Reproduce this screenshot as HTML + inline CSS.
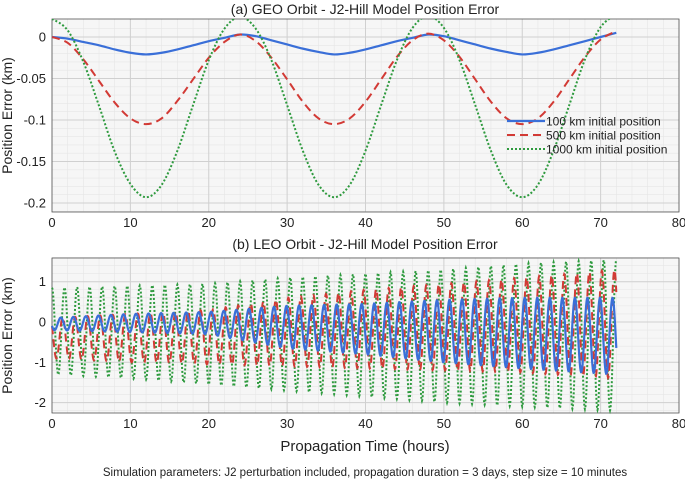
<!DOCTYPE html>
<html><head><meta charset="utf-8"><style>
body{margin:0;background:#fff;font-family:"Liberation Sans",sans-serif}
svg text{font-family:"Liberation Sans",sans-serif;fill:#222}
</style></head><body>
<svg id="c" width="685" height="485" viewBox="0 0 685 485"></svg>
<script>
const geoHours=[0,2,4,6,8,10,12,14,16,18,20,22,24,26,28,30,32,34,36,38,40,42,44,46,48,50,52,54,56,58,60,62,64,66,68,70,72];
const geoBlue=[0,-0.002,-0.006,-0.010,-0.015,-0.019,-0.021,-0.019,-0.015,-0.010,-0.005,-0.001,0.003,0.001,-0.004,-0.009,-0.014,-0.018,-0.021,-0.019,-0.015,-0.010,-0.005,-0.001,0.003,0.001,-0.004,-0.009,-0.014,-0.018,-0.021,-0.019,-0.015,-0.010,-0.005,0.000,0.005];
const geoRed=[0,-0.007,-0.027,-0.053,-0.079,-0.098,-0.105,-0.098,-0.077,-0.051,-0.025,-0.006,0.003,-0.005,-0.025,-0.051,-0.078,-0.098,-0.105,-0.098,-0.078,-0.051,-0.024,-0.004,0.004,-0.004,-0.024,-0.051,-0.078,-0.098,-0.105,-0.098,-0.078,-0.051,-0.024,-0.003,0.007];
const geoGreen=[0.022,0.008,-0.03,-0.083,-0.138,-0.177,-0.193,-0.178,-0.137,-0.082,-0.028,0.010,0.024,0.010,-0.028,-0.082,-0.137,-0.178,-0.193,-0.178,-0.137,-0.082,-0.028,0.011,0.025,0.011,-0.028,-0.082,-0.137,-0.178,-0.193,-0.178,-0.137,-0.082,-0.027,0.012,0.027];
const leoHours=[0,10,20,30,40,50,60,72];
const blueMax=[0.1,0.2,0.25,0.4,0.45,0.55,0.6,0.6];
const blueMin=[-0.2,-0.25,-0.3,-0.65,-0.8,-1.0,-1.15,-1.3];
const redMax=[0.1,0.2,0.3,0.6,0.8,0.95,1.1,1.3];
const redMin=[-0.9,-1.0,-1.05,-1.1,-1.15,-1.2,-1.25,-1.4];
const greenMax=[0.85,0.9,0.95,1.1,1.2,1.3,1.45,1.55];
const greenMin=[-1.3,-1.4,-1.55,-1.7,-1.85,-2.0,-2.1,-2.2];
const leoPeriod=1.6;
const xTicks=[0,10,20,30,40,50,60,70,80];
const geoTicks=[0,-0.05,-0.1,-0.15,-0.2];
const leoTicks=[1,0,-1,-2];
const legendLabels=["100 km initial position","500 km initial position","1000 km initial position"];

const svg=document.getElementById('c');const NS='http://www.w3.org/2000/svg';
function mk(t,a,p){const e=document.createElementNS(NS,t);for(const k in a)e.setAttribute(k,a[k]);(p||svg).appendChild(e);return e;}
const X0=52,X1=679;
const xs=v=>X0+(v/80)*(X1-X0);
const gy=v=>37+(0-v)/0.2*166;
const ly=v=>322-v*40.3;
const styles=[{stroke:'#3a6fd8','stroke-width':2.2,fill:'none'},{stroke:'#d23a35','stroke-width':2,fill:'none','stroke-dasharray':'8,5'},{stroke:'#2e9a3e','stroke-width':2,fill:'none','stroke-dasharray':'2,2'}];

function axes(top,bot,yf,ticks,name,minorStep,yMin,yMax){
  const g=mk('g',{});  
  mk('rect',{x:X0,y:top,width:X1-X0,height:bot-top,fill:'#f6f6f6'},g);
  for(let v=0;v<=80;v+=2)mk('line',{x1:xs(v),x2:xs(v),y1:top,y2:bot,stroke:'#e6e6e6','stroke-width':0.6},g);
  for(let v=Math.ceil(yMin/minorStep)*minorStep;v<=yMax;v+=minorStep)mk('line',{x1:X0,x2:X1,y1:yf(v),y2:yf(v),stroke:'#e6e6e6','stroke-width':0.6},g);
  xTicks.forEach(v=>{mk('line',{x1:xs(v),x2:xs(v),y1:top,y2:bot,stroke:'#d0d0d0','stroke-width':1},g);
    const t=mk('text',{x:xs(v),y:bot+15,'text-anchor':'middle','font-size':13},g);t.textContent=v;
    });
  ticks.forEach(v=>{mk('line',{x1:X0,x2:X1,y1:yf(v),y2:yf(v),stroke:'#d0d0d0','stroke-width':1},g);
    const t=mk('text',{x:X0-6,y:yf(v)+4.5,'text-anchor':'end','font-size':13},g);t.textContent=v;
    });
  mk('rect',{x:X0,y:top,width:X1-X0,height:bot-top,fill:'none',stroke:'#555','stroke-width':0.8},g);
  return g;
}
function smooth(px,py){let d='M'+px[0]+','+py[0];for(let i=0;i<px.length-1;i++){const x0=px[Math.max(i-1,0)],y0=py[Math.max(i-1,0)],x3=px[Math.min(i+2,px.length-1)],y3=py[Math.min(i+2,px.length-1)];
  d+=' C'+(px[i]+(px[i+1]-x0)/6)+','+(py[i]+(py[i+1]-y0)/6)+' '+(px[i+1]-(x3-px[i])/6)+','+(py[i+1]-(y3-py[i])/6)+' '+px[i+1]+','+py[i+1];}return d;}

// top chart
const topT=19,topB=212;
axes(topT,topB,gy,geoTicks,'geo',0.01,-0.21,0.02);
const clipT=mk('clipPath',{id:'ct'});mk('rect',{x:X0,y:topT,width:X1-X0,height:topB-topT},clipT);
[geoBlue,geoRed,geoGreen].forEach((s,i)=>{const p=mk('path',Object.assign({d:smooth(geoHours.map(xs),s.map(gy)),'clip-path':'url(#ct)'},styles[i]));
  });
let t=mk('text',{x:365,y:14,'text-anchor':'middle','font-size':14});t.textContent='(a) GEO Orbit - J2-Hill Model Position Error';

t=mk('text',{x:12,y:(topT+topB)/2,'text-anchor':'middle','font-size':14,transform:'rotate(-90 12 '+(topT+topB)/2+')'});t.textContent='Position Error (km)';

legendLabels.forEach((l,i)=>{const y=121+i*14;const g=mk('g',{});
  mk('line',Object.assign({x1:507,x2:545,y1:y,y2:y},styles[i]),g);
  const tt=mk('text',{x:546,y:y+4.5,'font-size':12},g);tt.textContent=l;});

// bottom chart
const botT=258,botB=413;
axes(botT,botB,ly,leoTicks,'leo',0.2,-2.25,1.6);
function interp(arr,h){for(let i=0;i<leoHours.length-1;i++){if(h<=leoHours[i+1]){const f=(h-leoHours[i])/(leoHours[i+1]-leoHours[i]);return arr[i]+f*(arr[i+1]-arr[i]);}}return arr[arr.length-1];}
const leoSets=[[blueMax,blueMin,0.6],[redMax,redMin,0.3],[greenMax,greenMin,0]];
[2,1,0].forEach(i=>{const [mx,mn,ph]=leoSets[i];let d='';
  for(let h=0;h<=72.001;h+=0.05){const hi=interp(mx,h),lo=interp(mn,h);const v=(hi+lo)/2+(hi-lo)/2*Math.cos(2*Math.PI*h/leoPeriod+ph*Math.PI);
    d+=(d?' L':'M')+xs(h).toFixed(2)+','+ly(v).toFixed(2);}
  const p=mk('path',Object.assign({d:d},styles[i]));});
t=mk('text',{x:365,y:249,'text-anchor':'middle','font-size':14});t.textContent='(b) LEO Orbit - J2-Hill Model Position Error';

t=mk('text',{x:12,y:(botT+botB)/2,'text-anchor':'middle','font-size':14,transform:'rotate(-90 12 '+(botT+botB)/2+')'});t.textContent='Position Error (km)';

t=mk('text',{x:365,y:451,'text-anchor':'middle','font-size':15});t.textContent='Propagation Time (hours)';

t=mk('text',{x:365,y:476,'text-anchor':'middle','font-size':11.5});t.textContent='Simulation parameters: J2 perturbation included, propagation duration = 3 days, step size = 10 minutes';

</script>
</body></html>
